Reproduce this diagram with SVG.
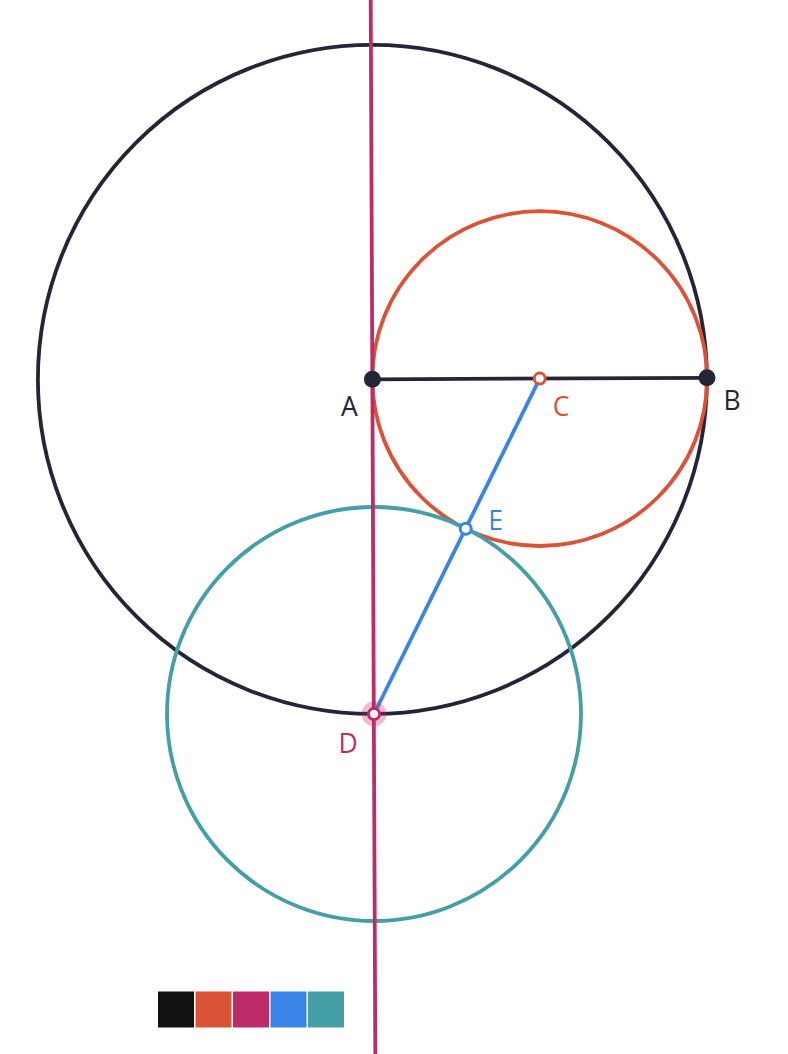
<svg xmlns="http://www.w3.org/2000/svg" width="788" height="1054" viewBox="0 0 788 1054">
<style>
.c{fill:none;stroke-width:3.8}
.lbl{font-family:"Open Sans","Noto Sans",sans-serif;font-size:26.5px}
.open{fill:#fff;stroke-width:3}
</style>
<rect width="788" height="1054" fill="#fff"/>
<g id="circles">
<circle id="circleA" class="c" cx="372.4" cy="379.4" r="334.5" stroke="#262538"/>
<circle id="circleC" class="c" cx="539.7" cy="378.6" r="167.4" stroke="#da5337"/>
<circle id="circleD" class="c" cx="374" cy="714" r="207" stroke="#459fa6"/>
</g>
<g id="connectors">
<line x1="370.7" y1="0" x2="375.3" y2="1054" stroke="#bd2c68" stroke-width="3.8"/>
<line x1="372.4" y1="379.3" x2="707" y2="377.8" stroke="#262538" stroke-width="3.8"/>
<line x1="539.7" y1="378.6" x2="374" y2="714" stroke="#3a84e8" stroke-width="3.8"/>
</g>
<g id="A"><circle cx="372.4" cy="379.3" r="8.5" fill="#262538"/><text class="lbl" x="349.5" y="416" text-anchor="middle" fill="#262538">A</text></g>
<g id="B"><circle cx="707" cy="377.8" r="8.5" fill="#262538"/><text class="lbl" x="732" y="410" text-anchor="middle" fill="#262538">B</text></g>
<g id="C"><circle class="open" cx="539.7" cy="378.6" r="5.5" stroke="#da5337"/><text class="lbl" x="561" y="416" text-anchor="middle" fill="#da5337">C</text></g>
<g id="E"><circle class="open" cx="465.7" cy="528.8" r="5.5" stroke="#3a84e8"/><text class="lbl" x="495.5" y="530" text-anchor="middle" fill="#3a84e8">E</text></g>
<g id="D"><circle cx="374" cy="714" r="12.5" fill="#bd2c68" fill-opacity="0.3"/><circle class="open" cx="374" cy="714" r="5.5" stroke="#bd2c68"/><text class="lbl" x="348" y="753" text-anchor="middle" fill="#bd2c68">D</text></g>
<g id="palette">
<rect x="158" y="991.5" width="36" height="36" fill="#111111"/>
<rect x="195.5" y="991.5" width="36" height="36" fill="#da5337"/>
<rect x="233" y="991.5" width="36" height="36" fill="#bd2c68"/>
<rect x="270.5" y="991.5" width="36" height="36" fill="#3a84e8"/>
<rect x="308" y="991.5" width="36" height="36" fill="#459fa6"/>
</g>
</svg>
